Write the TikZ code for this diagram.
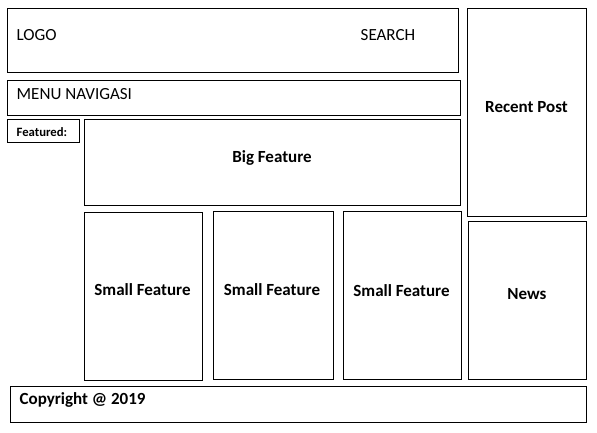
\documentclass[tikz,border=0pt]{standalone}
\usepackage{fontspec}
\setmainfont{Carlito}
\usetikzlibrary{positioning}

\tikzset{
  box/.style={draw, line width=1pt},
  label/.style={inner sep=0pt, font=\fontsize{17}{20}\selectfont},
  blabel/.style={label, font=\fontsize{17}{20}\selectfont\bfseries},
}

\begin{document}
\begin{tikzpicture}[x=1pt, y=-1pt]
  \fill [white] (0, 0) rectangle (597, 433);

  % header and menu
  \draw [box] (7.5, 8.5) rectangle (458, 73);
  \draw [box] (7.5, 80.5) rectangle (460, 116);
  \node [label, anchor=base west] (logo) at (16.5, 41) {LOGO};
  \node [label, anchor=base west] (search) at (360.5, 41) {SEARCH};
  \node [label, anchor=base west] (menu) at (16.5, 100) {MENU NAVIGASI};

  % featured area
  \draw [box] (7.5, 120) rectangle (79.5, 143);
  \node [blabel, font=\fontsize{12.7}{15}\selectfont\bfseries, anchor=base west] (featured) at (16.5, 137) {Featured:};
  \draw [box] (84.5, 120) rectangle (460, 205);
  \node [blabel, anchor=base] (big) at (272, 162) {Big Feature};

  \draw [box] (84.5, 212) rectangle (202, 380);
  \draw [box] (213, 211) rectangle (333, 379);
  \draw [box] (343, 211) rectangle (461, 379);
  \node [blabel, anchor=base] (small1) at (142.5, 295) {Small Feature};
  \node [blabel, anchor=base] (small2) at (272, 295.5) {Small Feature};
  \node [blabel, anchor=base] (small3) at (401.5, 296) {Small Feature};

  % sidebar
  \draw [box] (467, 9) rectangle (586, 216);
  \node [blabel, anchor=base] (recent) at (526.5, 113) {Recent Post};
  \draw [box] (468, 221) rectangle (586, 379);
  \node [blabel, anchor=base] (news) at (527, 299) {News};

  % footer
  \draw [box] (10, 386) rectangle (586, 422);
  \node [blabel, anchor=base west] (copy) at (19.5, 404) {Copyright @ 2019};
\end{tikzpicture}
\end{document}
